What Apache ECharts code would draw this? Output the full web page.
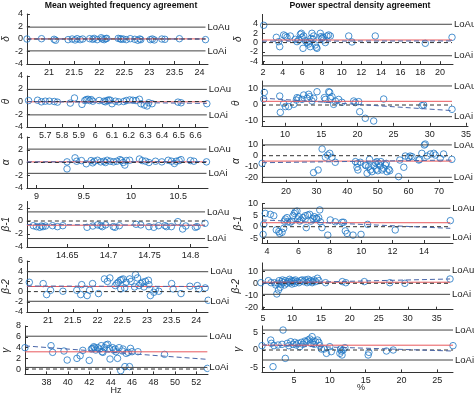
<!DOCTYPE html>
<html><head><meta charset="utf-8">
<script src="https://cdn.jsdelivr.net/npm/echarts@6/dist/echarts.min.js"></script>
<style>html,body{margin:0;padding:0;background:#fff}#c{width:474px;height:395px}</style>
</head><body><div id="c"></div>
<script>
// ---------- data: Mean weighted frequency agreement (left column) ----------
const mwfDelta = [[20.56,0],[20.85,0.05],[21.1,-0.05],[21.13,-0.2],[21.38,-0.1],[21.46,0],[21.52,-0.15],[21.56,0.05],[21.62,-0.1],[21.67,0],[21.81,0.05],[21.87,-0.05],[21.9,0.1],[21.96,-0.1],[22.04,0.2],[22.06,0],[22.1,-0.1],[22.13,0.05],[22.15,0.1],[22.38,0.1],[22.42,0.05],[22.44,-0.05],[22.48,0],[22.54,-0.1],[22.62,0.05],[22.71,-0.05],[22.77,-0.2],[22.81,0],[22.83,-0.1],[23.02,-0.1],[23.06,0],[23.1,-0.15],[23.25,0],[23.31,-0.05],[23.6,0.05],[24.12,-0.1]];
const mwfTheta = [[5.60,0.15],[5.654,0.2],[5.677,-0.05],[5.70,0.05],[5.725,0.05],[5.754,0],[5.773,-0.1],[5.85,-0.25],[5.875,0.55],[5.92,-0.45],[5.937,0.15],[5.946,0.3],[5.956,0.35],[5.965,0.15],[5.975,0.3],[5.985,0.05],[6.023,0.15],[6.052,0.05],[6.06,-0.05],[6.07,0.15],[6.08,0.25],[6.09,0.2],[6.10,-0.35],[6.12,0.05],[6.14,-0.05],[6.17,0],[6.186,0.15],[6.206,0.25],[6.225,0.2],[6.244,0.15],[6.264,0.35],[6.273,-0.35],[6.293,-0.55],[6.31,-0.7],[6.32,-0.2],[6.34,-0.35],[6.495,-0.1],[6.514,-0.2],[6.668,-0.35]];
const mwfAlpha = [[9.323,0.1],[9.323,-1.0],[9.408,0.73],[9.425,0.2],[9.476,0.3],[9.527,-0.2],[9.578,0.3],[9.595,-0.05],[9.612,0.2],[9.646,0.35],[9.68,0.1],[9.714,0.2],[9.73,0],[9.748,0.35],[9.782,0.2],[9.816,0.1],[9.85,0.2],[9.884,0.45],[9.9,0.3],[9.918,0],[9.935,-0.4],[9.952,0.3],[9.986,0.35],[10.09,0.55],[10.12,0.3],[10.156,0.2],[10.19,0],[10.26,0.2],[10.327,0.1],[10.395,0.35],[10.43,0.2],[10.46,-0.15],[10.48,0.2],[10.51,0.3],[10.53,0.45],[10.63,0.3],[10.666,0.2],[10.8,0.1]];
const mwfBeta1 = [[14.6086,-0.72],[14.6125,-0.87],[14.6164,-0.97],[14.6183,-0.77],[14.6203,-0.87],[14.6234,-0.77],[14.632,-0.72],[14.638,-0.87],[14.6445,-0.72],[14.674,-0.97],[14.681,-0.77],[14.6867,-0.6],[14.6907,-0.72],[14.6926,-0.87],[14.6965,-0.6],[14.706,-0.87],[14.708,-0.97],[14.7133,-0.72],[14.7336,-0.5],[14.7394,-0.6],[14.7493,-0.87],[14.7552,-0.97],[14.761,-0.72],[14.7688,-0.72],[14.7707,-0.87],[14.7766,-0.87],[14.7845,-0.1],[14.7903,-1.23],[14.7942,-0.77],[14.8059,-0.97],[14.8079,-0.87],[14.8176,-0.36]];
const mwfBeta2 = [[20.62,1.83],[20.9,1.57],[20.97,-0.59],[21.05,0.26],[21.3,0.07],[21.58,0.26],[21.66,-0.59],[21.68,1.37],[21.79,-0.78],[21.84,0.26],[21.9,1.57],[22.02,-0.39],[22.14,2.48],[22.25,2.68],[22.2,2.0],[22.36,1.18],[22.39,1.57],[22.42,1.83],[22.46,2.22],[22.49,2.35],[22.52,2.48],[22.47,0.52],[22.55,0.72],[22.58,1.83],[22.65,2.48],[22.75,0.92],[22.68,2.0],[22.77,3.33],[22.81,2.68],[22.84,1.18],[22.88,1.57],[22.91,1.83],[22.94,0.92],[22.97,2.0],[23.03,2.22],[23.04,1.37],[23.07,-0.78],[23.14,-0.13],[23.17,0.39],[23.24,0.07],[23.5,1.57],[23.53,0.52],[23.69,-0.39],[23.87,1.05],[24.02,1.18],[24.05,0.52],[24.18,0.72],[24.24,-1.7]];
const mwfGamma = [[36.0,3.97],[38.43,4.34],[38.58,3.1],[39.64,3.35],[39.94,1.67],[40.85,1.98],[41.15,2.48],[41.4,3.47],[42.0,1.6],[42.2,3.72],[42.3,3.84],[42.42,4.15],[42.5,3.97],[42.6,3.53],[42.8,3.97],[42.97,3.72],[43.12,4.34],[43.2,3.22],[43.27,3.1],[43.43,3.97],[43.58,4.47],[43.73,4.59],[43.88,3.84],[43.94,1.86],[44.18,3.97],[44.27,3.53],[44.42,3.72],[44.48,3.22],[44.64,1.98],[44.79,3.97],[44.94,-0.3],[45.09,3.35],[45.15,3.72],[45.33,0.45],[45.45,2.91],[45.64,3.1],[45.76,0.45],[45.85,3.84],[46.0,3.22],[46.55,3.22],[49.03,2.73],[53.03,0.12]];
const mwfLoAu = [1.9, 1.9, 2.1, 1.4, 3.9, 6.1];
const mwfLoAi = [-1.9, -2.1, -1.7, -2.7, -1.9, 0.3];
const mwfBias = [0.02, -0.05, 0.1, -0.65, 1.0, 3.2];
const mwfRegStart = [0, 0, 0.1, -0.55, 1.1, 4.3];
const mwfRegEnd = [0, -0.3, 0.15, -0.65, 1.0, 1.8];
const mwfXTicks = [[21,21.5,22,22.5,23,23.5,24],[5.7,5.8,5.9,6,6.1,6.2,6.3,6.4,6.5,6.6],[9,9.5,10,10.5],[14.65,14.7,14.75,14.8],[21,21.5,22,22.5,23,23.5,24],[38,40,42,44,46,48,50,52]];
const mwfYTicks = [[-4,-2,0,2,4],[-4,-2,0,2,4],[-4,-2,0,2,4],[-4,-2,0,2],[-4,-2,0,2,4,6],[0,2,4,6,8]];

// ---------- data: Power spectral density agreement (right column) ----------
const psdDelta = [[2.07,3.68],[3.36,1.12],[3.6,0.2],[3.7,-0.87],[4.1,1.62],[4.27,1.4],[4.44,1.12],[4.78,1.4],[5.29,0.7],[5.46,0.2],[5.63,0.55],[5.8,1.77],[5.9,1.98],[5.97,1.12],[6.07,-1.22],[6.14,1.4],[6.31,0.4],[6.48,0],[6.65,-0.3],[6.75,0.2],[6.81,-0.87],[6.88,0.9],[6.98,1.98],[7.09,0.7],[7.15,1.4],[7.32,-0.5],[7.43,-1.0],[7.49,-1.22],[7.83,1.98],[7.9,1.26],[8.0,0.9],[8.1,1.12],[8.17,0.55],[8.34,0],[8.51,1.4],[8.68,1.62],[8.85,1.4],[10.72,1.4],[11.05,0.13],[13.42,1.4],[18.51,-0.15],[21.23,1.12]];
const psdTheta = [[7.14,7.9],[7.06,3.75],[9.27,5.6],[9.35,-4.6],[9.82,1.0],[10.05,-1.0],[10.51,-1.0],[11.2,0.4],[11.56,3.1],[11.66,4.6],[11.89,4.2],[12.35,3.5],[12.58,6.25],[13.04,4.2],[13.27,6.7],[13.41,5.2],[13.73,2.5],[13.96,4.2],[14.42,8.3],[15.43,4.6],[15.57,3.5],[16.04,8.3],[16.17,7.9],[16.26,4.2],[16.49,5.2],[16.72,0.4],[16.95,2.5],[17.41,3.5],[17.87,1.7],[19.49,2.5],[19.71,1.5],[20.18,2.1],[20.32,-4.2],[21.09,-8.3],[22.25,-10],[23.63,3.75],[28.92,-0.4],[29.16,0],[33.07,-2.7]];
const psdAlpha = [[12.2,-7.1],[29.0,-15.7],[30.5,-13.2],[31.8,6.2],[32.9,-1.5],[33.6,0.6],[34.3,2.2],[35.0,-1.5],[36.1,-6.1],[42.7,-5.5],[43.2,-10.7],[43.4,-7.1],[43.5,-13.2],[44.3,-6.1],[45.9,-8.6],[46.2,-9.3],[46.5,-16.3],[47.0,-10.2],[47.3,-3.4],[47.6,-13.2],[48.1,-14.8],[48.7,-9.3],[49.2,-6.5],[49.5,-12.6],[49.7,-5.5],[50.0,-13.9],[50.3,-7.1],[50.8,-9.5],[51.0,-5.5],[51.4,-13.2],[51.9,-11.7],[52.5,-8.6],[52.8,-7.1],[53.0,-14.8],[53.6,-12.6],[53.9,-13.9],[56.8,-19.4],[57.2,-4.0],[58.5,-10.7],[59.0,-0.3],[60.1,-1.5],[60.6,-0.3],[61.2,-0.9],[63.4,-4.0],[63.7,-3.4],[64.4,2.2],[65.2,9.9],[65.5,10.8],[66.1,-0.3],[67.2,1.6],[68.3,2.2],[68.8,0.6],[70.4,-2.5],[71.5,1.6],[74.2,-3.4]];
const psdBeta1 = [[3.75,-3.3],[3.79,1.0],[3.89,5.7],[4.21,5.3],[4.43,4.7],[4.59,-1.4],[4.75,-2.1],[4.81,-2.9],[4.96,-2.4],[5.06,-0.7],[5.1,2.4],[5.17,3.3],[5.27,3.9],[5.32,2.1],[5.48,1.9],[5.59,2.4],[5.66,4.7],[5.74,5.7],[5.8,6.4],[5.91,6.7],[5.96,3.3],[6.02,4.3],[6.08,2.4],[6.17,2.9],[6.29,3.9],[6.44,4.7],[6.5,-0.4],[6.59,5.0],[6.72,5.3],[6.8,2.4],[6.93,3.6],[7.01,4.3],[7.14,3.6],[7.18,3.3],[7.29,3.9],[7.36,7.2],[7.4,2.1],[7.5,-0.4],[7.87,-3.6],[8.03,2.9],[8.35,2.1],[8.78,1.9],[8.88,1.9],[8.99,-1.8],[9.1,-2.9],[9.48,-3.6],[9.99,-3.3],[10.41,1.0],[12.17,-1.4],[15.68,2.6]];
const psdBeta2 = [[4.65,0.5],[5.93,2.2],[6.4,0.5],[6.98,0.5],[7.2,-1.4],[7.39,-8.9],[7.56,0],[7.67,-5.6],[7.79,2.2],[7.97,-3.3],[8.14,-0.6],[8.26,1.4],[8.37,2.8],[8.55,0.5],[8.72,-1.4],[8.84,2.2],[9.13,0],[9.42,1.4],[9.59,3.3],[9.71,0.5],[9.89,2.2],[10.0,-0.6],[10.1,1.4],[10.3,2.2],[10.5,0],[10.6,2.8],[10.9,1.4],[11.2,0.5],[11.5,2.2],[11.75,2.8],[12.0,1.4],[12.3,2.8],[12.6,0.5],[12.8,3.3],[12.9,1.4],[13.2,2.2],[13.5,0.5],[13.6,1.4],[13.8,2.8],[14.1,1.4],[14.4,4.2],[14.65,2.2],[15.8,0.5],[18.7,1.4],[19.3,0.5],[22.5,1.4],[26.9,0.5],[29.5,0],[37.3,3.6]];
const psdGamma = [[0.52,1.26],[1.74,2.9],[1.83,1.94],[2.06,-4.84],[2.2,1.26],[2.76,1.45],[3.32,1.65],[3.46,5.8],[3.78,-2.42],[4.06,1.94],[4.26,1.26],[4.54,2.42],[4.86,1.65],[5.1,2.23],[5.32,1.45],[5.56,1.94],[5.8,0.97],[6.02,2.23],[6.26,1.65],[6.5,2.6],[6.72,2.42],[6.96,2.9],[7.2,3.2],[7.34,1.94],[7.52,3.88],[7.66,2.6],[7.8,1.65],[7.98,2.42],[8.26,2.9],[8.46,2.23],[8.6,1.26],[8.82,0.29],[9.2,0.29],[9.52,-0.97],[9.99,0.97],[10.2,-0.48],[11.4,-0.97],[11.5,0.29],[11.6,-0.29],[11.7,-1.45],[11.85,0],[12.1,0.68],[15.35,-1.45],[15.45,-0.68],[17.9,-0.29],[18.85,0],[27.2,1.26]];
const psdLoAu = [3.9, 11.9, 10, 7.9, 11, 5.8];
const psdLoAi = [-2.8, -7.3, -20, -4.5, -9.2, -2.9];
const psdBias = [0.55, 2.3, -5, 1.7, 0.9, 1.4];
const psdRegStart = [0.3, 4.3, -6.5, 2.9, 0, 1.5];
const psdRegEnd = [0.35, -3.5, -4, -0.7, 3.6, -0.3];
const psdXTicks = [[2,4,6,8,10,12,14,16,18,20],[10,15,20,25,30,35],[20,30,40,50,60,70],[4,6,8,10,12,14],[5,10,15,20,25,30,35],[5,10,15,20,25]];
const psdYTicks = [[-4,-2,0,2,4],[-10,0,10],[-20,-10,0,10],[-5,0,5,10],[-20,-10,0,10],[-5,0,5]];

const bandNames = ['δ','θ','α','β-1','β-2','γ'];

// ---------- layout (pixels / axis extents) ----------
const layoutL = [
  {top:14, height:50, xmin:20.558, xmax:24.17, ymin:-4, ymax:4},
  {top:76, height:51, xmin:5.590, xmax:6.675, ymin:-4, ymax:4},
  {top:137, height:51, xmin:8.898, xmax:10.816, ymin:-4, ymax:4},
  {top:201.5, height:45.5, xmin:14.6008, xmax:14.8212, ymin:-4, ymax:3},
  {top:261, height:51, xmin:20.571, xmax:24.236, ymin:-4, ymax:6},
  {top:326, height:48.4, xmin:36.0, xmax:53.09, ymin:-1, ymax:8}
];
const layoutR = [
  {top:14.4, height:49.8, xmin:1.898, xmax:21.33, ymin:-4.6, ymax:6},
  {top:81, height:44.8, xmin:6.82, xmax:35.28, ymin:-13, ymax:15, width:206},
  {top:139.5, height:43.2, xmin:12.16, xmax:74.58, ymin:-25, ymax:15},
  {top:203.4, height:39.6, xmin:3.68, xmax:15.85, ymin:-7, ymax:10},
  {top:262.9, height:46.8, xmin:4.83, xmax:37.81, ymin:-22, ymax:17},
  {top:325.9, height:46.5, xmin:0.52, xmax:27.2, ymin:-6.5, ymax:7}
];
const colL = {left:20, width:188, nameGap:14};
const colR = {left:262, width:191, nameGap:19};

const grids=[], xAxes=[], yAxes=[], series=[];
const FONT = 'Liberation Sans, Arial, sans-serif';

function addPanel(col, lay, pts, name, xt, yt, up, lo, bias, r0, r1){
  const i = grids.length;
  grids.push({left:col.left, top:lay.top, width:lay.width || col.width, height:lay.height, containLabel:false});
  xAxes.push({type:'value', gridIndex:i, min:lay.xmin, max:lay.xmax,
    axisLine:{show:true, onZero:false, lineStyle:{color:'#333', width:1}},
    axisTick:{show:true, inside:true, length:3, customValues:xt, lineStyle:{color:'#333'}},
    axisLabel:{show:true, customValues:xt, fontSize:9, color:'#222', margin:4, fontFamily:FONT},
    splitLine:{show:false}});
  yAxes.push({type:'value', gridIndex:i, min:lay.ymin, max:lay.ymax,
    name:name, nameLocation:'middle', nameGap:col.nameGap, nameRotate:90,
    nameTextStyle:{fontStyle:'italic', fontSize:10, color:'#222', fontFamily:FONT},
    axisLine:{show:true, onZero:false, lineStyle:{color:'#333', width:1}},
    axisTick:{show:true, inside:true, length:3, customValues:yt, lineStyle:{color:'#333'}},
    axisLabel:{show:true, customValues:yt, fontSize:9, color:'#222', margin:4, fontFamily:FONT},
    splitLine:{show:false}});
  const xEnd = Math.max(...pts.map(p=>p[0]));
  const x0 = lay.xmin;
  const base = {type:'line', xAxisIndex:i, yAxisIndex:i, showSymbol:false, symbol:'none', silent:true, animation:false};
  series.push({type:'scatter', xAxisIndex:i, yAxisIndex:i, data:pts, symbol:'circle', symbolSize:6.5, clip:false,
    itemStyle:{color:'rgba(0,0,0,0)', borderColor:'#1f77c4', borderWidth:1}, silent:true, z:2});
  series.push(Object.assign({}, base, {data:[[x0,up],[xEnd,up]], lineStyle:{color:'#444', width:1}, z:3,
    endLabel:{show:true, formatter:'LoAu', distance:2, fontSize:9.5, color:'#222', fontFamily:FONT, backgroundColor:'#fff'}}));
  series.push(Object.assign({}, base, {data:[[x0,lo],[xEnd,lo]], lineStyle:{color:'#444', width:1}, z:3,
    endLabel:{show:true, formatter:'LoAi', distance:2, fontSize:9.5, color:'#222', fontFamily:FONT, backgroundColor:'#fff'}}));
  series.push(Object.assign({}, base, {data:[[x0,bias],[xEnd,bias]], lineStyle:{color:'#e8585c', width:1}, z:4}));
  series.push(Object.assign({}, base, {data:[[x0,0],[xEnd,0]], lineStyle:{color:'#333', width:1, type:[4,3]}, z:4}));
  series.push(Object.assign({}, base, {data:[[x0,r0],[xEnd,r1]], lineStyle:{color:'#4a66a8', width:1, type:[5,3]}, z:5}));
}

const mwfSets = [mwfDelta, mwfTheta, mwfAlpha, mwfBeta1, mwfBeta2, mwfGamma];
const psdSets = [psdDelta, psdTheta, psdAlpha, psdBeta1, psdBeta2, psdGamma];
for (let k=0;k<6;k++){
  addPanel(colL, layoutL[k], mwfSets[k], bandNames[k], mwfXTicks[k], mwfYTicks[k], mwfLoAu[k], mwfLoAi[k], mwfBias[k], mwfRegStart[k], mwfRegEnd[k]);
}
for (let k=0;k<6;k++){
  addPanel(colR, layoutR[k], psdSets[k], bandNames[k], psdXTicks[k], psdYTicks[k], psdLoAu[k], psdLoAi[k], psdBias[k], psdRegStart[k], psdRegEnd[k]);
}

const chart = echarts.init(document.getElementById('c'), null, {renderer:'canvas'});
chart.setOption({
  animation:false,
  backgroundColor:'#fff',
  grid:grids, xAxis:xAxes, yAxis:yAxes, series:series,
  graphic:[
    {type:'text', style:{text:'Mean weighted frequency agreement', x:121, y:6, textAlign:'center', textVerticalAlign:'middle', font:'bold 8.7px '+FONT, fill:'#111'}},
    {type:'text', style:{text:'Power spectral density agreement', x:360, y:6, textAlign:'center', textVerticalAlign:'middle', font:'bold 8.7px '+FONT, fill:'#111'}},
    {type:'text', style:{text:'Hz', x:116, y:391, textAlign:'center', textVerticalAlign:'middle', font:'9px '+FONT, fill:'#222'}},
    {type:'text', style:{text:'%', x:361, y:388, textAlign:'center', textVerticalAlign:'middle', font:'9px '+FONT, fill:'#222'}}
  ]
});
</script></body></html>
